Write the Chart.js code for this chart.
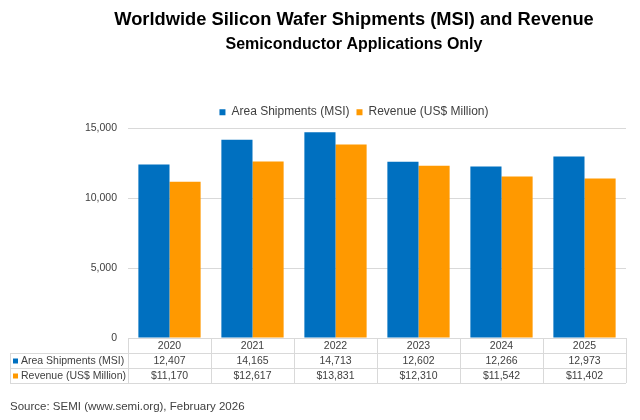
<!DOCTYPE html>
<html>
<head>
<meta charset="utf-8">
<script src="https://cdn.jsdelivr.net/npm/chart.js@4.4.1/dist/chart.umd.min.js"></script>
<style>
  html, body { margin: 0; padding: 0; background: #fff; }
  #chart { display: block; }
</style>
</head>
<body>
<canvas id="chart" width="640" height="420"></canvas>
<script>
// Dados do gráfico
let years = ['2020', '2021', '2022', '2023', '2024', '2025'];
let areaShipments = [12407, 14165, 14713, 12602, 12266, 12973];
let revenue = [11170, 12617, 13831, 12310, 11542, 11402];
let seriesLabels = ['Area Shipments (MSI)', 'Revenue (US$ Million)'];
let yTicks = [0, 5000, 10000, 15000];

let blue = '#0070C0';
let orange = '#FF9900';
let textGray = '#404040';
let lineGray = '#D9D9D9';

function fmt(n) {
  return n.toLocaleString('en-US');
}

// Tabela de dados por baixo do gráfico + fonte
let dataTable = {
  id: 'dataTable',
  afterDraw(chart) {
    let ctx = chart.ctx;
    let x = chart.scales.x;
    let top = chart.chartArea.bottom;
    let rowH = 15;
    let colW = (x.right - x.left) / years.length;
    let left = 10;

    ctx.save();
    ctx.strokeStyle = lineGray;
    ctx.lineWidth = 1;
    ctx.beginPath();
    // linhas horizontais
    ctx.moveTo(x.left, top + 0.5);
    ctx.lineTo(x.right, top + 0.5);
    for (let r = 1; r <= 3; r++) {
      ctx.moveTo(left, top + r * rowH + 0.5);
      ctx.lineTo(x.right, top + r * rowH + 0.5);
    }
    // linhas verticais
    ctx.moveTo(left + 0.5, top + rowH);
    ctx.lineTo(left + 0.5, top + 3 * rowH);
    for (let i = 0; i <= years.length; i++) {
      let cx = Math.round(x.left + i * colW) + 0.5;
      ctx.moveTo(cx, top);
      ctx.lineTo(cx, top + 3 * rowH);
    }
    ctx.stroke();

    ctx.font = '10.5px "Liberation Sans", Arial, sans-serif';
    ctx.fillStyle = textGray;
    ctx.textAlign = 'center';
    ctx.textBaseline = 'middle';
    let rows = [years, areaShipments.map(fmt), revenue.map(v => '$' + fmt(v))];
    rows.forEach((row, r) => {
      row.forEach((val, i) => {
        ctx.fillText(val, x.getPixelForValue(i), top + r * rowH + rowH / 2 + 1);
      });
    });

    // legendas das linhas
    ctx.textAlign = 'left';
    let colors = [blue, orange];
    seriesLabels.forEach((lab, r) => {
      let cy = top + (r + 1) * rowH + rowH / 2 + 1;
      ctx.fillStyle = colors[r];
      ctx.fillRect(13, cy - 3, 5, 5);
      ctx.fillStyle = textGray;
      ctx.fillText(lab, 21, cy);
    });

    // fonte
    ctx.font = '11.5px "Liberation Sans", Arial, sans-serif';
    ctx.fillStyle = textGray;
    ctx.fillText('Source: SEMI (www.semi.org), February 2026', 10, 407);
    ctx.restore();
  }
};

new Chart(document.getElementById('chart'), {
  type: 'bar',
  data: {
    labels: years,
    datasets: [
      { label: seriesLabels[0], data: areaShipments, backgroundColor: blue },
      { label: seriesLabels[1], data: revenue, backgroundColor: orange }
    ]
  },
  options: {
    responsive: false,
    animation: false,
    layout: { padding: { left: 82, right: 14, top: 0, bottom: 74 } },
    datasets: {
      bar: { categoryPercentage: 0.75, barPercentage: 1.0 }
    },
    plugins: {
      title: {
        display: true,
        text: 'Worldwide Silicon Wafer Shipments (MSI) and Revenue',
        color: '#000',
        font: { family: '"Liberation Sans", Arial, sans-serif', size: 18.3, weight: 'bold' },
        padding: { top: 9, bottom: 4 },
        align: 'center'
      },
      subtitle: {
        display: true,
        text: 'Semiconductor Applications Only',
        color: '#000',
        font: { family: '"Liberation Sans", Arial, sans-serif', size: 16, weight: 'bold' },
        padding: { top: 0, bottom: 45 }
      },
      legend: {
        position: 'top',
        labels: {
          boxWidth: 6,
          boxHeight: 6,
          padding: 7,
          color: textGray,
          font: { family: '"Liberation Sans", Arial, sans-serif', size: 12 }
        }
      },
      tooltip: { enabled: false }
    },
    scales: {
      x: {
        ticks: { display: false },
        grid: { display: false },
        border: { display: false }
      },
      y: {
        min: 0,
        max: 15000,
        afterBuildTicks(scale) {
          scale.ticks = yTicks.map(v => ({ value: v }));
        },
        afterFit(scale) {
          scale.width = 46;
        },
        ticks: {
          padding: 11,
          color: textGray,
          font: { family: '"Liberation Sans", Arial, sans-serif', size: 10.5 },
          callback: v => fmt(v)
        },
        grid: { color: lineGray, drawTicks: false },
        border: { display: false }
      }
    }
  },
  plugins: [dataTable]
});
</script>
</body>
</html>
